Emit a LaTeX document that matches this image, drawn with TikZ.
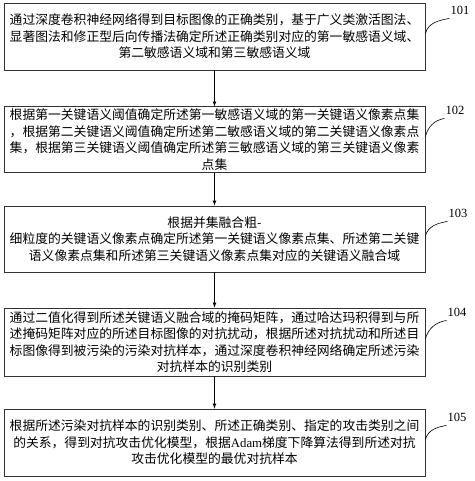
\documentclass[tikz,border=0pt]{standalone}
\usepackage{fontspec}
\setmainfont{Liberation Serif}
\newfontfamily\cjk{Noto Sans CJK SC}

\tikzset{
  stepbox/.style={draw=black!80, line width=0.8pt, align=center, minimum width=421pt,
    inner sep=2pt, font=\cjk\fontsize{12.8}{16.5}\selectfont},
  numlabel/.style={inner sep=1pt, font=\fontsize{12.5}{14}\selectfont},
  flow/.style={-latex, line width=0.7pt},
  lead/.style={line width=0.6pt}
}

\begin{document}
\begin{tikzpicture}
  \useasboundingbox (0pt,0pt) rectangle (474pt,-481pt);

  % steps
  \node[stepbox, minimum height=67pt] (s101) at (214.5pt,-36.5pt)
    {通过深度卷积神经网络得到目标图像的正确类别，基于广义类激活图法、\\
     显著图法和修正型后向传播法确定所述正确类别对应的第一敏感语义域、\\
     第二敏感语义域和第三敏感语义域};
  \node[stepbox, minimum height=65pt] (s102) at (214.5pt,-139.5pt)
    {根据第一关键语义阈值确定所述第一敏感语义域的第一关键语义像素点集\\
     ，根据第二关键语义阈值确定所述第二敏感语义域的第二关键语义像素点\\
     集，根据第三关键语义阈值确定所述第三敏感语义域的第三关键语义像素\\
     点集};
  \node[stepbox, minimum height=66pt] (s103) at (214.5pt,-239pt)
    {根据并集融合粗-\\
     细粒度的关键语义像素点确定所述第一关键语义像素点集、所述第二关键\\
     语义像素点集和所述第三关键语义像素点集对应的关键语义融合域};
  \node[stepbox, minimum height=68pt] (s104) at (214.5pt,-342pt)
    {通过二值化得到所述关键语义融合域的掩码矩阵，通过哈达玛积得到与所\\
     述掩码矩阵对应的所述目标图像的对抗扰动，根据所述对抗扰动和所述目\\
     标图像得到被污染的污染对抗样本，通过深度卷积神经网络确定所述污染\\
     对抗样本的识别类别};
  \node[stepbox, minimum height=67pt] (s105) at (214.5pt,-442.5pt)
    {根据所述污染对抗样本的识别类别、所述正确类别、指定的攻击类别之间\\
     的关系，得到对抗攻击优化模型，根据{\rmfamily Adam}梯度下降算法得到所述对抗\\
     攻击优化模型的最优对抗样本};

  % arrows
  \draw[flow] (s101) -- (s102);
  \draw[flow] (s102) -- (s103);
  \draw[flow] (s103) -- (s104);
  \draw[flow] (s104) -- (s105);

  % reference numbers
  \node[numlabel] (n101) at (460pt,-10pt) {101};
  \node[numlabel] (n102) at (455pt,-110pt) {102};
  \node[numlabel] (n103) at (458pt,-213pt) {103};
  \node[numlabel] (n104) at (457pt,-312pt) {104};
  \node[numlabel] (n105) at (457pt,-417pt) {105};

  \draw[lead] ([yshift=3pt]s101.east) to[out=75,in=190] ([yshift=-3pt]n101.south west);
  \draw[lead] ([yshift=3pt]s102.east) to[out=75,in=190] ([yshift=-3pt]n102.south west);
  \draw[lead] ([yshift=3pt]s103.east) to[out=75,in=190] ([yshift=-3pt]n103.south west);
  \draw[lead] ([yshift=3pt]s104.east) to[out=75,in=190] ([yshift=-3pt]n104.south west);
  \draw[lead] ([yshift=3pt]s105.east) to[out=75,in=190] ([yshift=-3pt]n105.south west);
\end{tikzpicture}
\end{document}
